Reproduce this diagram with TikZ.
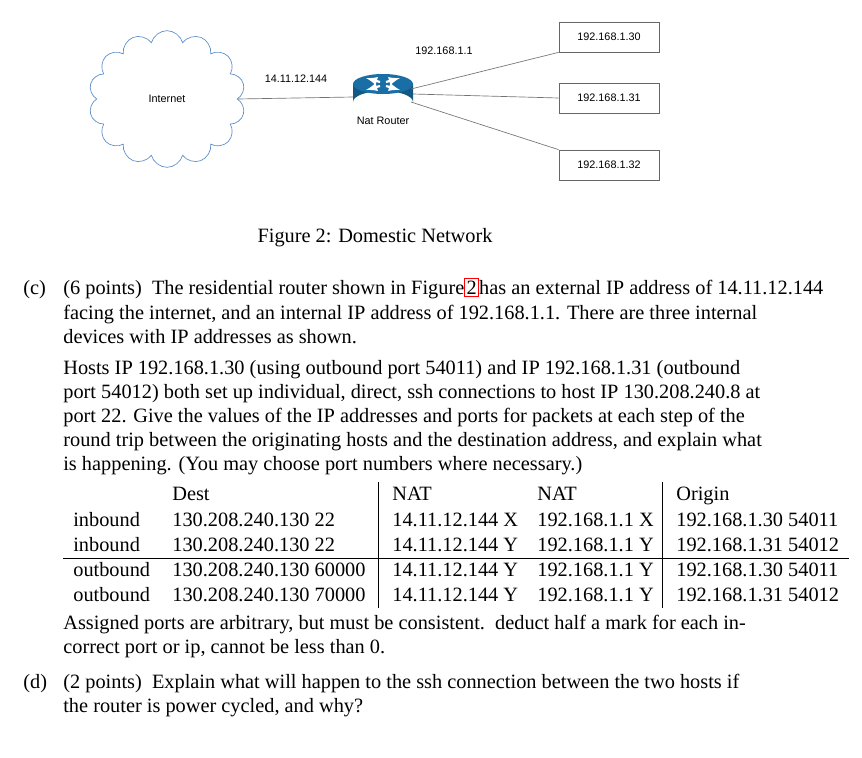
\documentclass[tikz,border=0pt]{standalone}
\usepackage{fontspec}
\setmainfont{Liberation Serif}
\newfontfamily\diagfont{Liberation Sans}
\usetikzlibrary{shapes.symbols, positioning}
\definecolor{cloudblue}{RGB}{90,140,200}
\definecolor{routerblue}{RGB}{25,110,165}
\tikzstyle{host} = [rectangle, draw=black!60, minimum width=60pt, minimum height=18pt, font=\diagfont\fontsize{6.5}{7}\selectfont]
\tikzstyle{label} = [font=\diagfont\fontsize{6.5}{7}\selectfont]
\tikzstyle{line} = [anchor=base west, inner sep=0pt, font=\fontsize{12.2}{14}\selectfont]
\tikzstyle{link} = [draw=black!55, thin]
\newcommand{\figref}[1]{{\setlength{\fboxsep}{1pt}\color{red}\fbox{\color{black}#1}}}

\begin{document}
\begin{tikzpicture}[x=0.6pt, y=-0.6pt]
    \useasboundingbox (0,0) rectangle (862,757);

    % Network
    \node (internet) [cloud, cloud puffs=14, aspect=1.2, draw=cloudblue, minimum width=94pt, minimum height=82pt, font=\diagfont\fontsize{6.5}{7}\selectfont] at (167,99) {Internet};
    \fill[routerblue!80!black] (353,84) -- (353,102) arc (180:360:30 and 11) -- (413,84) -- cycle;
    \fill[routerblue] (383,84) ellipse (30 and 10);
    \coordinate (rtrleft) at (353,97);
    \coordinate (rtrright) at (413,94);
    \foreach \dx/\dy in {-1/-1,1/-1,-1/1,1/1}
        \draw[white, line width=1.3pt, -latex] (383+3*\dx,84+2*\dy) -- (383+17*\dx,84+6*\dy);
    \node (router) [label] at (383,121) {Nat Router};
    \node (h30) [host] at (609,37) {192.168.1.30};
    \node (h31) [host] at (609,98) {192.168.1.31};
    \node (h32) [host] at (609,165) {192.168.1.32};
    \node (extip) [label] at (296,79) {14.11.12.144};
    \node (intip) [label] at (444,51) {192.168.1.1};
    \draw[link] (internet.east) -- (rtrleft);
    \draw[link] (411,89) -- (h30.south west);
    \draw[link] (rtrright) -- (h31.west);
    \draw[link] (411,102) -- (h32.north west);

    % Caption
    \node (caption) [anchor=base, inner sep=0pt, font=\fontsize{12.2}{14}\selectfont] at (375,242) {Figure 2: Domestic Network};

    % Part (c)
    \node (cmark) [line] at (23,294) {(c)};
    \node (c1) [line] at (63,294) {(6 points)\ \ The residential router shown in Figure\figref{2}has an external IP address of 14.11.12.144};
    \node (c2) [line] at (63,319) {facing the internet, and an internal IP address of 192.168.1.1. There are three internal};
    \node (c3) [line] at (63,343) {devices with IP addresses as shown.};
    \node (c4) [line] at (63,374) {Hosts IP 192.168.1.30 (using outbound port 54011) and IP 192.168.1.31 (outbound};
    \node (c5) [line] at (63,398) {port 54012) both set up individual, direct, ssh connections to host IP 130.208.240.8 at};
    \node (c6) [line] at (63,422) {port 22. Give the values of the IP addresses and ports for packets at each step of the};
    \node (c7) [line] at (63,446) {round trip between the originating hosts and the destination address, and explain what};
    \node (c8) [line] at (63,470) {is happening. (You may choose port numbers where necessary.)};

    % Table
    \node (hdest) [line] at (172,500) {Dest};
    \node (hnat1) [line] at (392,500) {NAT};
    \node (hnat2) [line] at (537,500) {NAT};
    \node (horig) [line] at (676,500) {Origin};
    \foreach \y/\dir/\dst/\nx/\orig in {526/inbound/22/X/30 54011, 551/inbound/22/Y/31 54012, 576/outbound/60000/Y/30 54011, 601/outbound/70000/Y/31 54012} {
        \node [line] at (73,\y) {\dir};
        \node [line] at (172,\y) {130.208.240.130 \dst};
        \node [line] at (392,\y) {14.11.12.144 \nx};
        \node [line] at (537,\y) {192.168.1.1 \nx};
        \node [line] at (676,\y) {192.168.1.\orig};
    }
    \draw (378,482) -- (378,608);
    \draw (662,482) -- (662,608);
    \draw (63,558) -- (849,558);

    \node (c9) [line] at (63,629) {Assigned ports are arbitrary, but must be consistent.\ \ deduct half a mark for each in-};
    \node (c10) [line] at (63,653) {correct port or ip, cannot be less than 0.};

    % Part (d)
    \node (dmark) [line] at (23,688) {(d)};
    \node (d1) [line] at (63,688) {(2 points)\ \ Explain what will happen to the ssh connection between the two hosts if};
    \node (d2) [line] at (63,712) {the router is power cycled, and why?};

\end{tikzpicture}
\end{document}
